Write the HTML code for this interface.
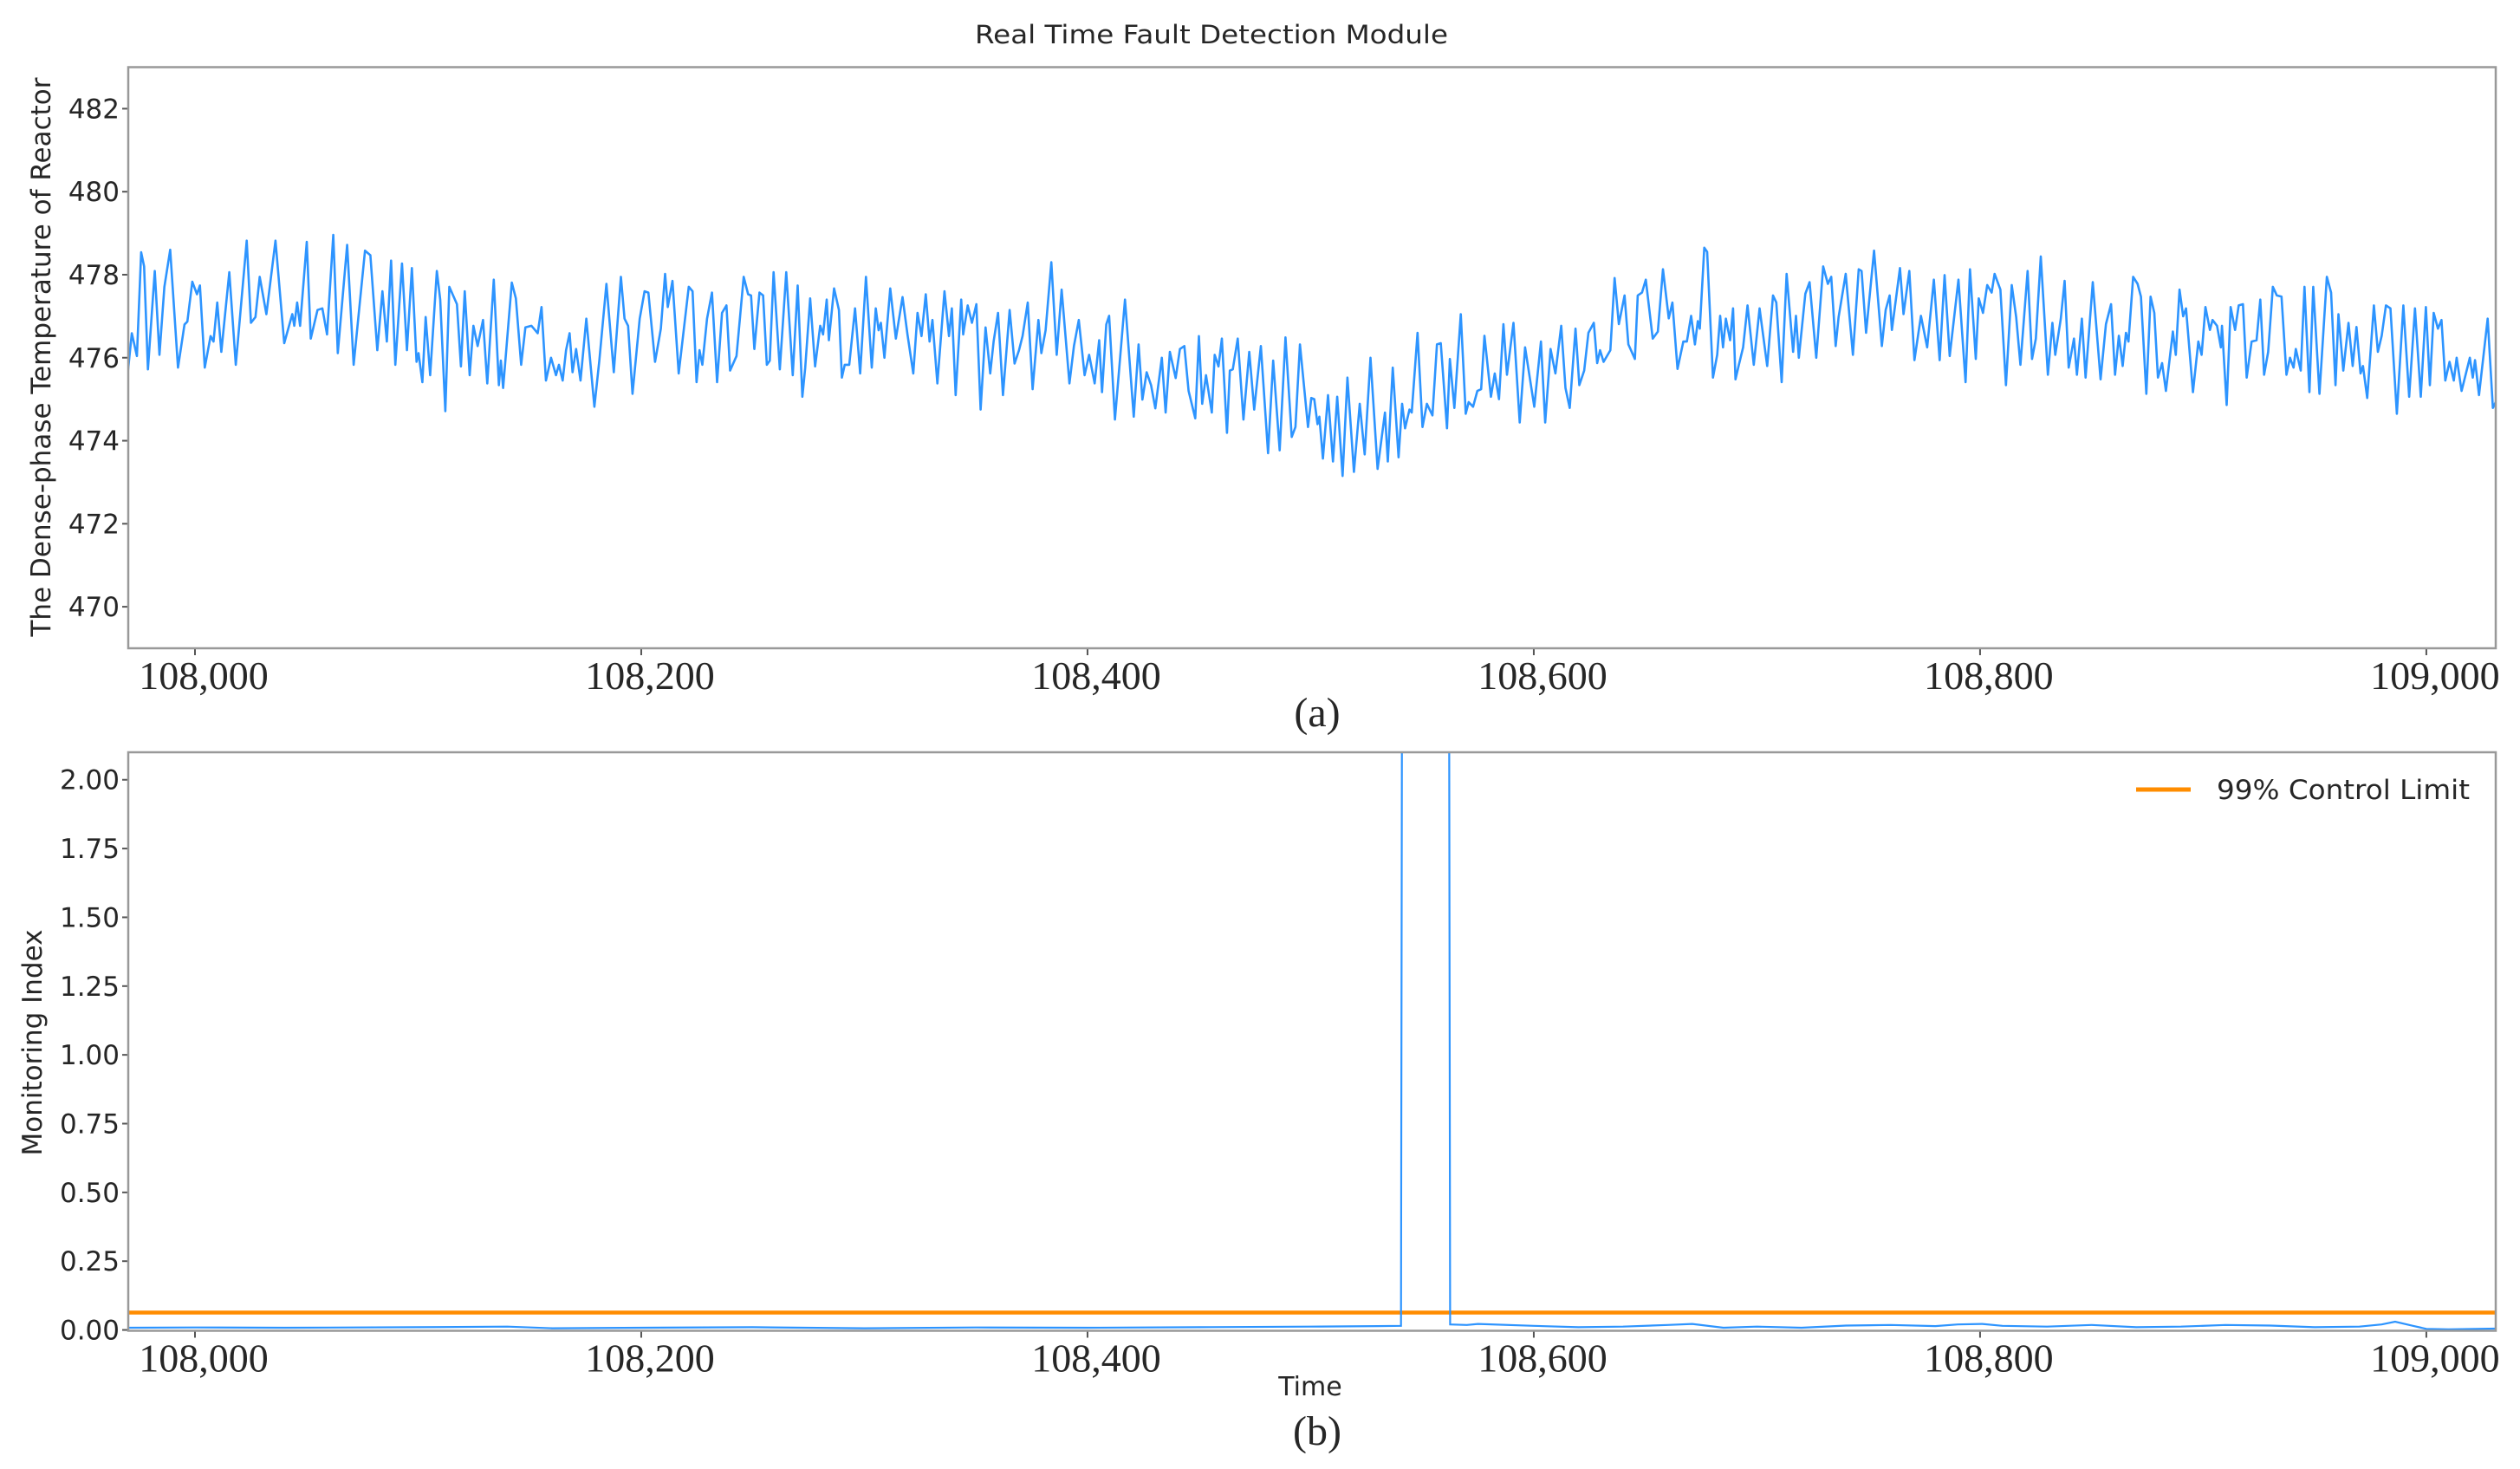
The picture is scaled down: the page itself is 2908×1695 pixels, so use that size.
<!DOCTYPE html>
<html><head><meta charset="utf-8"><style>
html,body{margin:0;padding:0;background:#fff;}
svg{display:block;}
text{fill:#262626;}
.sans{font-family:"DejaVu Sans","Liberation Sans",sans-serif;}
.serif{font-family:"Liberation Serif","DejaVu Serif",serif;}
</style></head><body>
<svg id="fig" xmlns="http://www.w3.org/2000/svg" width="2908" height="1695" viewBox="0 0 2908 1695">
<rect width="2908" height="1695" fill="#fff"/>
<text class="sans" x="1398" y="50" font-size="29" text-anchor="middle" textLength="546" lengthAdjust="spacingAndGlyphs">Real Time Fault Detection Module</text>
<g id="topPanel"></g>
<g id="botPanel"></g>
<text class="sans" font-size="31" text-anchor="middle" transform="translate(58,412) rotate(-90)">The Dense-phase Temperature of Reactor</text>
<text class="sans" font-size="31" text-anchor="middle" transform="translate(48,1203) rotate(-90)">Monitoring Index</text>
<text class="sans" x="1512" y="1610" font-size="30" text-anchor="middle">Time</text>
<text class="serif" x="1520" y="838" font-size="48" text-anchor="middle">(a)</text>
<text class="serif" x="1520" y="1667" font-size="48" text-anchor="middle">(b)</text>
<g>
<line x1="2465" y1="911" x2="2528" y2="911" stroke="#ff8c00" stroke-width="5"/>
<text class="sans" x="2558" y="922" font-size="31" textLength="292" lengthAdjust="spacingAndGlyphs">99% Control Limit</text>
</g>
</svg>
<script>
// ---- data ----
const xTicks = [108000,108200,108400,108600,108800,109000];
const xTickLabels = ["108,000","108,200","108,400","108,600","108,800","109,000"];
const tempTicks = [470,472,474,476,478,480,482];
const idxTicks = [0,0.25,0.5,0.75,1,1.25,1.5,1.75,2];
const idxTickLabels = ["0.00","0.25","0.50","0.75","1.00","1.25","1.50","1.75","2.00"];
const controlLimit = 0.063;
const tempTime = [107970,107971.7,107974,107975.9,107977.2,107978.9,107982,107984.1,107986.3,107988.9,107992.4,107995.3,107996.6,107998.8,108000.9,108002.2,108004.4,108007,108008.3,108010,108011.8,108015.4,108018.3,108023.2,108025.1,108027.1,108029,108032,108036.1,108040,108043.6,108044.5,108045.8,108047.1,108050.1,108051.9,108054.9,108057.1,108059.2,108062,108064,108068.2,108071.1,108076.2,108078.6,108081.7,108084,108086,108087.9,108089.8,108092.8,108095,108097.2,108099.3,108100.2,108101.9,108103.4,108105.4,108108.4,108109.9,108112.2,108114,108117.4,108119.2,108120.9,108123.1,108124.8,108126.7,108129.1,108131,108133.9,108136.2,108137.1,108138.1,108142,108143.8,108146.2,108148.1,
108150.8,108153.6,108155.3,108157.3,108159.6,108161.8,108163.1,108164.8,108166.3,108167.9,108169.2,108170.8,108172.8,108175.4,108179,108181.2,108184.4,108187.7,108190.9,108192.5,108194.1,108196.1,108199.3,108201.5,108203.2,108206.2,108208.8,108210.7,108211.9,108214,108216.8,108221.3,108223,108224.8,108226.1,108227.4,108229.5,108231.7,108234,108236.2,108238.2,108239.8,108242.7,108245.9,108247.9,108249.2,108250.7,108253,108254.6,108256.3,108257.6,108259.3,108262.1,108265,108267.9,108270.1,108272.2,108273.5,108275.7,108277.9,108280.2,108281.5,108283.1,108284.1,108286.4,108288.6,108289.9,108291.2,108293.2,108295.8,108298.1,108300.7,108303.3,108305.1,108306.4,108307.4,108309,108311.6,108314.1,108317.1,108319.3,108321.9,108323.8,
108325.6,108327.5,108329.2,108330.5,108332.7,108335.9,108337.9,108339.2,108340.9,108343.4,108344.3,108346.3,108348.2,108350.2,108352.1,108354.3,108356.4,108357.9,108359.9,108362.1,108365.1,108367.3,108369.3,108370.9,108373.2,108375.4,108378,108379.3,108381.2,108383.8,108386.2,108388.4,108391.9,108393.9,108396.1,108398.7,108400.7,108403.2,108405.2,108406.5,108408.4,108409.7,108412.3,108416.8,108420.7,108422.9,108424.6,108426.5,108428.5,108430.4,108433.3,108435,108436.9,108439.5,108441.4,108443.4,108445.3,108448.3,108449.9,108451.4,108453.1,108455.7,108457,108458.7,108460.2,108462.5,108463.8,108465.1,108467.3,108469.9,108472.5,108474.7,108477.7,108480.9,108483.2,108486.1,108488.7,108491.5,108493.2,108495.2,108498.8,
108500.3,108501.6,108503.1,108503.9,108505.5,108507.8,108510,108511.9,108514.3,108516.5,108519.4,108522,108524.2,108526.8,108530,108533.3,108534.6,108536.8,108539.4,108541,108542.3,108544.3,108545.3,108547.9,108550.1,108552.1,108554.6,108556.6,108558.3,108561.1,108562.4,108564.4,108567.3,108569.5,108570.8,108572.8,108574.7,108576.4,108577.9,108580.8,108582.5,108584.4,108586.4,108588,108590.9,108593.7,108596.1,108600.2,108603.2,108605.1,108607.5,108609.7,108612.3,108614.2,108616.1,108618.7,108620.4,108622.6,108624.5,108626.9,108628.4,108629.7,108631.3,108634.3,108636.2,108638.1,108640.7,108642.4,108645.3,108646.6,108648.5,108650.2,108653.3,108655.6,108657.9,108660.5,108662.1,108664.4,108667,108668.6,108670.5,108672.2,108673.5,
108674.4,108676.4,108677.7,108680.3,108682.2,108683.5,108684.8,108686.1,108688,108689.3,108690.4,108691.9,108693.8,108695.8,108698.6,108701.2,108704.6,108707.2,108708.7,108711.1,108713.3,108716.2,108717.5,108718.8,108721.7,108723.6,108726.6,108729.7,108731.8,108733.3,108735.3,108736.6,108739.8,108743,108745.6,108746.9,108748.9,108752.5,108756,108757.7,108759.5,108760.5,108764.1,108765.7,108768.3,108770.6,108773.5,108776.3,108779.3,108781.9,108784.1,108786.4,108790.3,108793.5,108795.5,108798.1,108799.4,108801.3,108803.2,108805.2,108806.5,108809.1,108811.6,108814.2,108816.2,108818.1,108821.3,108823.3,108825,108827.2,108830.4,108832.4,108833.7,108836.2,108837.9,108839.7,108842.1,108843.4,108845.6,108847.3,
108850.5,108854,108856.4,108858.7,108860.5,108862.2,108863.9,108865.4,108866.5,108868.6,108870.6,108872.1,108874.5,108876.4,108878.1,108879.7,108881.6,108883.3,108886.4,108887.7,108889.4,108891,108892.3,108895.4,108897.8,108899.3,108901,108903,108904.2,108906.2,108907.9,108908.4,108910.5,108912.3,108914.3,108915.9,108917.8,108919.5,108921.7,108923.9,108925.6,108927.3,108929.1,108931.2,108933,108935.1,108937.3,108938.9,108940.5,108941.5,108943.7,108945.4,108947.6,108949.3,108952.1,108955.4,108957.3,108959.3,108960.6,108962.8,108965.1,108967,108968.7,108970.5,108971.6,108973.5,108976.5,108978.3,108980,108981.9,108983.9,108986.8,108989.7,108992.3,108994.9,108997.5,108999.8,109001.6,109003.3,109005.2,109006.8,109008.5,109010.4,109012.3,109013.6,109015.8,109019.5,109020.8,109021.8,109023.6,109027.5,109029.8,109031.1];
const tempValue = [475.69,476.59,476.04,478.54,478.2,475.72,478.09,476.07,477.71,478.6,475.76,476.8,476.87,477.83,477.53,477.74,475.76,476.52,476.39,477.33,476.14,478.06,475.83,478.82,476.84,476.98,477.95,477.05,478.82,476.35,477.05,476.77,477.33,476.77,478.79,476.46,477.15,477.19,476.56,478.96,476.11,478.72,475.83,478.58,478.47,476.18,477.6,476.39,478.34,475.83,478.27,476.18,478.16,475.9,476.11,475.41,476.98,475.58,478.09,477.4,474.71,477.71,477.29,475.79,477.6,475.58,476.77,476.28,476.91,475.38,477.88,475.34,475.93,475.27,477.81,477.43,475.83,476.73,
476.77,476.59,477.22,475.45,476.0,475.58,475.83,475.45,476.18,476.59,475.65,476.21,475.45,476.94,474.82,475.93,477.78,475.65,477.95,476.94,476.77,475.13,476.94,477.6,477.57,475.9,476.7,478.02,477.22,477.85,475.62,477.71,477.6,475.41,476.18,475.83,476.94,477.57,475.41,477.08,477.26,475.69,476.04,477.95,477.53,477.5,476.21,477.57,477.5,475.83,475.93,478.06,475.72,478.06,475.58,477.74,475.06,475.76,477.43,475.79,476.77,476.56,477.4,476.42,477.67,477.15,475.52,475.83,475.83,477.19,475.62,477.95,475.76,477.19,476.66,476.84,476.0,477.67,476.46,477.46,476.56,475.62,477.08,
476.52,477.53,476.39,476.91,475.38,477.6,476.52,477.19,475.1,477.4,476.56,477.26,476.84,477.29,474.75,476.73,475.62,476.39,477.08,475.1,477.15,475.86,476.18,476.52,477.33,475.24,476.91,476.11,476.66,478.3,476.07,477.64,475.38,476.28,476.91,475.58,476.07,475.38,476.42,475.17,476.8,477.01,474.51,477.4,474.58,476.32,474.99,475.65,475.34,474.78,476.0,474.68,476.14,475.51,476.21,476.28,475.2,474.54,476.52,474.89,475.58,474.68,476.07,475.79,476.46,474.19,475.69,475.72,476.46,474.51,476.14,474.75,476.28,473.7,475.93,473.77,476.49,474.09,474.33,476.32,474.33,
475.03,475.0,474.4,474.58,473.57,475.1,473.5,475.06,473.15,475.52,473.25,474.89,473.67,476.0,473.32,474.68,473.5,475.76,473.6,474.89,474.3,474.75,474.68,476.6,474.33,474.89,474.61,476.32,476.35,474.3,475.97,474.79,477.05,474.65,474.93,474.82,475.2,475.24,476.53,475.06,475.62,475.0,476.81,475.59,476.84,474.44,476.25,474.82,476.39,474.44,476.21,475.62,476.77,475.27,474.79,476.7,475.34,475.69,476.6,476.84,475.87,476.18,475.9,476.18,477.92,476.81,477.5,476.32,475.97,477.5,477.57,477.88,476.46,476.63,478.13,476.95,477.33,475.73,476.39,476.39,477.01,476.32,476.88,
476.7,478.65,478.55,475.52,476.07,477.01,476.25,476.94,476.42,477.19,475.48,475.83,476.25,477.26,475.83,477.19,475.8,477.5,477.33,475.41,478.02,476.14,477.01,476.0,477.54,477.82,476.0,478.2,477.78,477.95,476.28,476.98,478.02,476.07,478.13,478.09,476.6,478.58,476.28,477.15,477.5,476.67,478.16,477.05,478.09,475.94,477.01,476.25,477.88,475.94,477.99,476.04,477.88,475.41,478.13,475.97,477.43,477.08,477.75,477.57,478.02,477.64,475.34,477.75,476.98,475.83,478.09,475.97,476.46,478.44,475.59,476.84,476.07,476.94,477.85,475.76,476.46,475.59,476.94,475.52,
477.82,475.48,476.81,477.29,475.59,476.53,475.8,476.6,476.39,477.95,477.78,477.47,475.13,477.47,477.08,475.52,475.87,475.2,476.63,476.07,477.64,477.0,477.19,475.17,476.39,476.07,477.22,476.67,476.91,476.77,476.25,476.77,474.86,477.22,476.67,477.26,477.29,475.52,476.39,476.42,477.4,475.59,476.14,477.71,477.5,477.47,475.59,476.0,475.76,476.21,475.69,477.71,475.17,477.71,475.13,477.95,477.57,475.34,477.05,475.69,476.84,475.8,476.74,475.62,475.8,475.03,477.26,476.14,476.53,477.26,477.19,474.65,477.26,475.06,477.19,475.06,477.22,475.34,477.08,476.7,476.91,475.45,475.9,475.45,476.0,475.2,476.0,475.52,475.94,475.1,476.94,474.79,474.93];
const idxTime = [107970,108000,108040,108100,108140,108160,108200,108250,108300,108350,108400,108450,108500,108530,108540.5,108541,108562,108562.5,108570,108575,108600,108620,108640,108660,108671,108685,108700,108720,108740,108760,108780,108790,108801,108810,108830,108850,108870,108890,108910,108930,108950,108970,108980,108986,108994,109000,109010,109031];
const idxValue = [0.008,0.009,0.008,0.010,0.012,0.006,0.008,0.010,0.006,0.009,0.008,0.010,0.012,0.014,0.015,2.6,2.6,0.020,0.018,0.022,0.015,0.010,0.012,0.018,0.022,0.008,0.012,0.008,0.016,0.018,0.014,0.020,0.022,0.015,0.012,0.018,0.010,0.012,0.018,0.016,0.010,0.012,0.020,0.030,0.015,0.004,0.002,0.005];

// ---- layout ----
const NS="http://www.w3.org/2000/svg";
const L=148,R=2880;
const xMin=107970.1,xMax=109031.1;
const xs=v=>L+(v-xMin)/(xMax-xMin)*(R-L);
const TP={top:77.5,bot:748,min:469,max:483};
const BP={top:868,bot:1535.5,min:-0.003,max:2.1};
const yT=v=>TP.bot-(v-TP.min)/(TP.max-TP.min)*(TP.bot-TP.top);
const yB=v=>BP.bot-(v-BP.min)/(BP.max-BP.min)*(BP.bot-BP.top);
function mk(tag,attrs,parent){const e=document.createElementNS(NS,tag);for(const k in attrs)e.setAttribute(k,attrs[k]);parent.appendChild(e);return e;}

function panel(g,P,yf,ticks,labels,name){
  const defs=mk('defs',{},g);
  const cp=mk('clipPath',{id:'clip-'+name},defs);
  mk('rect',{x:L,y:P.top,width:R-L,height:P.bot-P.top},cp);
  ticks.forEach((t,i)=>{
    const yy=yf(t);
    const tk=mk('line',{x1:L-7,x2:L,y1:yy,y2:yy,stroke:'#555','stroke-width':2},g);
    
    
    const tx=mk('text',{x:L-10,y:yy+11,'font-size':31,'text-anchor':'end','class':'sans'},g);
    tx.textContent=labels[i];
    
    
  });
  xTicks.forEach((t,i)=>{
    const xx=xs(t);
    const tk=mk('line',{x1:xx,x2:xx,y1:P.bot,y2:P.bot+8,stroke:'#555','stroke-width':2},g);
    
    
    const tx=mk('text',{x:xx+10,y:P.bot+47,'font-size':46,'text-anchor':'middle','class':'serif'},g);
    tx.textContent=xTickLabels[i];
    
    
  });
}
const topG=document.getElementById('topPanel'), botG=document.getElementById('botPanel');
panel(topG,TP,yT,tempTicks,tempTicks.map(String),'temperature');
panel(botG,BP,yB,idxTicks,idxTickLabels,'monitoring');

// temperature line
let pd=tempTime.map((t,i)=>(i?'L':'M')+xs(t).toFixed(1)+','+yT(tempValue[i]).toFixed(1)).join('');
const tl=mk('path',{d:pd,fill:'none',stroke:'#2d94ff','stroke-width':2.6,'stroke-linejoin':'round','clip-path':'url(#clip-temperature)'},topG);



// control limit
const cl=mk('line',{x1:L,x2:R,y1:yB(controlLimit),y2:yB(controlLimit),stroke:'#ff8c00','stroke-width':4.5},botG);


// monitoring index
pd=idxTime.map((t,i)=>(i?'L':'M')+xs(t).toFixed(1)+','+yB(idxValue[i]).toFixed(1)).join('');
const ml=mk('path',{d:pd,fill:'none',stroke:'#2d94ff','stroke-width':2.2,'clip-path':'url(#clip-monitoring)'},botG);



// frames
[[topG,TP,'temperature'],[botG,BP,'monitoring']].forEach(([g,P,n])=>{
  const fr=mk('rect',{x:L,y:P.top,width:R-L,height:P.bot-P.top,fill:'none',stroke:'#999','stroke-width':2.5},g);
  
  
});
</script>
</body></html>
